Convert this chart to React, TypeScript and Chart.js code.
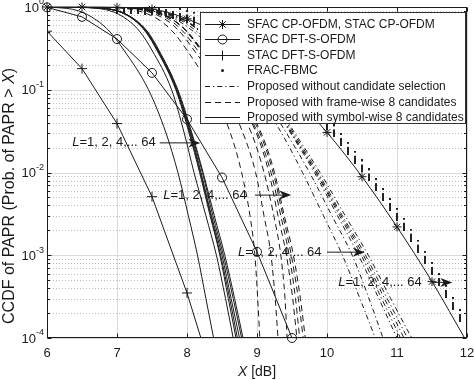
import React, { useEffect, useRef } from "react";
import { Chart, registerables } from "chart.js";

Chart.register(...registerables);

// ---------- data ----------
// probability levels at which the proposed-scheme curves were read (y values)
const levels = [1, 0.99, 0.9, 0.7, 0.5, 0.3, 0.1, 0.03, 0.01, 0.003, 0.001, 0.0003, 0.0001];

// Proposed with symbol-wise 8 candidates (solid), X [dB] at each level, L = 1..64
const symL1 = [6, 6.1, 6.45, 6.7, 6.9, 7.1, 7.45, 7.7, 7.87, 8.02, 8.15, 8.27, 8.38];
const symL2 = [6, 6.4, 6.9, 7.15, 7.33, 7.5, 7.78, 7.96, 8.1, 8.27, 8.42, 8.55, 8.66];
const symL4 = [6, 6.5, 7.0, 7.24, 7.41, 7.57, 7.84, 8.03, 8.18, 8.33, 8.47, 8.59, 8.7];
const symL8 = [6, 6.5, 7.0, 7.25, 7.42, 7.58, 7.85, 8.04, 8.19, 8.34, 8.48, 8.61, 8.72];
const symL16 = [6, 6.5, 7.0, 7.25, 7.42, 7.58, 7.85, 8.05, 8.2, 8.35, 8.5, 8.63, 8.75];
const symL32 = [6, 6.5, 7.0, 7.26, 7.43, 7.59, 7.86, 8.06, 8.22, 8.37, 8.52, 8.66, 8.78];
const symL64 = [6, 6.5, 7.0, 7.26, 7.44, 7.6, 7.87, 8.07, 8.23, 8.39, 8.54, 8.68, 8.8];

// Proposed with frame-wise 8 candidates (dashed)
const frmL1 = [6, 6.8, 7.3, 7.6, 7.8, 8.0, 8.35, 8.62, 8.78, 8.9, 8.97, 9.01, 9.04];
const frmL2 = [6, 6.9, 7.4, 7.7, 7.9, 8.1, 8.5, 8.8, 8.98, 9.1, 9.2, 9.26, 9.3];
const frmL4 = [6, 6.95, 7.45, 7.75, 7.95, 8.15, 8.58, 8.92, 9.1, 9.24, 9.34, 9.4, 9.43];
const frmL8 = [6, 7.0, 7.5, 7.8, 8.0, 8.2, 8.64, 8.99, 9.17, 9.3, 9.42, 9.51, 9.57];
const frmL16 = [6, 7.0, 7.5, 7.8, 8.0, 8.2, 8.66, 9.01, 9.2, 9.34, 9.46, 9.55, 9.61];
const frmL32 = [6, 7.0, 7.5, 7.8, 8.0, 8.21, 8.68, 9.04, 9.23, 9.37, 9.49, 9.59, 9.66];
const frmL64 = [6, 7.0, 7.5, 7.8, 8.01, 8.22, 8.7, 9.06, 9.25, 9.39, 9.52, 9.62, 9.69];

// Proposed without candidate selection (dash-dot)
const rawL1 = [6, 6.9, 7.45, 7.85, 8.1, 8.4, 8.95, 9.35, 9.65, 9.95, 10.22, 10.47, 10.69];
const rawL2 = [6, 6.95, 7.5, 7.9, 8.15, 8.47, 9.02, 9.42, 9.75, 10.07, 10.36, 10.6, 10.8];
const rawL4 = [6, 7.0, 7.55, 7.95, 8.2, 8.53, 9.08, 9.48, 9.82, 10.15, 10.45, 10.74, 11.0];
const rawL8 = [6, 7.0, 7.55, 7.95, 8.2, 8.54, 9.09, 9.49, 9.84, 10.18, 10.49, 10.78, 11.05];
const rawL16 = [6, 7.0, 7.55, 7.95, 8.2, 8.55, 9.1, 9.5, 9.85, 10.2, 10.52, 10.82, 11.1];
const rawL32 = [6, 7.0, 7.56, 7.96, 8.21, 8.56, 9.11, 9.52, 9.87, 10.22, 10.55, 10.86, 11.15];
const rawL64 = [6, 7.0, 7.56, 7.96, 8.22, 8.57, 9.13, 9.54, 9.9, 10.26, 10.59, 10.91, 11.21];

// Benchmarks, sampled every 0.5 dB
const cpX = [6, 6.5, 7, 7.5, 8, 8.5, 9, 9.5, 10, 10.5, 11, 11.5, 12];
const cpY = [1, 1, 0.99, 0.945, 0.72, 0.44, 0.21, 0.087, 0.0305, 0.0089, 0.0022, 0.00048, 0.000089];
const sfacX = [6, 6.5, 7, 7.5, 8, 8.5, 9, 9.5];
const sfacY = [0.99, 0.76, 0.41, 0.16, 0.044, 0.0087, 0.0011, 0.0001];
const stacX = [6, 6.5, 7, 7.5, 8, 8.5];
const stacY = [0.51, 0.18, 0.039, 0.0051, 0.00035, 0.000015];

// FRAC-FBMC, sampled every 0.1 dB from 7.0 to 12.0
const fbmcX = [
  7.0, 7.1, 7.2, 7.3, 7.4, 7.5, 7.6, 7.7, 7.8, 7.9,
  8.0, 8.1, 8.2, 8.3, 8.4, 8.5, 8.6, 8.7, 8.8, 8.9,
  9.0, 9.1, 9.2, 9.3, 9.4, 9.5, 9.6, 9.7, 9.8, 9.9,
  10.0, 10.1, 10.2, 10.3, 10.4, 10.5, 10.6, 10.7, 10.8, 10.9,
  11.0, 11.1, 11.2, 11.3, 11.4, 11.5, 11.6, 11.7, 11.8, 11.9, 12.0,
];
const fbmcY = [
  0.993, 0.99, 0.983, 0.974, 0.964, 0.955, 0.946, 0.906, 0.859, 0.815,
  0.773, 0.733, 0.668, 0.604, 0.546, 0.493, 0.446, 0.389, 0.337, 0.292,
  0.254, 0.22, 0.185, 0.155, 0.129, 0.108, 0.0904, 0.0736, 0.0597, 0.0484,
  0.0393, 0.0318, 0.0251, 0.0196, 0.0153, 0.012, 0.00935, 0.00714, 0.00542, 0.00411,
  0.00312, 0.00237, 0.00175, 0.00129, 0.000944, 0.000693, 0.000509, 0.000366, 0.000261, 0.000187, 0.000133,
];

// Axis ticks and labels
const xTicks = [6, 7, 8, 9, 10, 11, 12];
const yExps = [0, -1, -2, -3, -4];
const legendLabels = [
  "SFAC CP-OFDM, STAC CP-OFDM",
  "SFAC DFT-S-OFDM",
  "STAC DFT-S-OFDM",
  "FRAC-FBMC",
  "Proposed without candidate selection",
  "Proposed with frame-wise 8 candidates",
  "Proposed with symbol-wise 8 candidates",
];
const annText = "=1, 2, 4,... 64";
// annotation anchors in data units: text start, level, arrow start/end
const annotations = [
  { tx: 6.36, p: 0.0228, a0: 7.61, a1: 8.19 },
  { tx: 7.66, p: 0.00533, a0: 8.97, a1: 9.49 },
  { tx: 8.73, p: 0.00109, a0: 10.0, a1: 10.54 },
  { tx: 10.16, p: 0.00047, a0: 11.51, a1: 11.79 },
];

// ---------- styles ----------
const FONT = '"Liberation Sans", Arial, Helvetica, sans-serif';
const INK = "#1a1a1a";
const DASH = [6, 4];
const DASHDOT = [5, 3, 1.2, 3];

function curve(xs: number[], dash: number[]) {
  return {
    data: xs.map((x, i) => ({ x, y: levels[i] })),
    showLine: true,
    borderColor: INK,
    borderWidth: 1,
    borderDash: dash,
    pointRadius: 0,
    cubicInterpolationMode: "monotone" as const,
  };
}

function series(xs: number[], ys: number[]) {
  return xs.map((x, i) => ({ x, y: ys[i] }));
}

function drawMarker(ctx: CanvasRenderingContext2D, kind: string, x: number, y: number) {
  ctx.beginPath();
  if (kind === "star") {
    const r = 4.5;
    for (let k = 0; k < 4; k++) {
      const a = (k * Math.PI) / 4;
      ctx.moveTo(x - r * Math.cos(a), y - r * Math.sin(a));
      ctx.lineTo(x + r * Math.cos(a), y + r * Math.sin(a));
    }
    ctx.stroke();
  } else if (kind === "circle") {
    ctx.arc(x, y, 4.5, 0, Math.PI * 2);
    ctx.stroke();
  } else if (kind === "plus") {
    ctx.moveTo(x - 5, y);
    ctx.lineTo(x + 5, y);
    ctx.moveTo(x, y - 5);
    ctx.lineTo(x, y + 5);
    ctx.stroke();
  } else if (kind === "dot") {
    ctx.arc(x, y, 1.5, 0, Math.PI * 2);
    ctx.fill();
  }
}

const framePlugin = {
  id: "frame",
  beforeDatasetsDraw(chart: any) {
    const { ctx, chartArea: a, scales } = chart;
    const sx = scales.x;
    const sy = scales.y;
    ctx.save();
    ctx.lineWidth = 1;
    ctx.strokeStyle = "#dadada";
    for (const v of xTicks) {
      const px = Math.round(sx.getPixelForValue(v)) + 0.5;
      ctx.beginPath();
      ctx.moveTo(px, a.top);
      ctx.lineTo(px, a.bottom);
      ctx.stroke();
    }
    ctx.strokeStyle = "#bdbdbd";
    ctx.setLineDash([1, 2]);
    for (let e = -4; e < 0; e++) {
      for (let k = 2; k <= 9; k++) {
        const py = Math.round(sy.getPixelForValue(k * Math.pow(10, e))) + 0.5;
        ctx.beginPath();
        ctx.moveTo(a.left, py);
        ctx.lineTo(a.right, py);
        ctx.stroke();
      }
    }
    ctx.setLineDash([]);
    ctx.strokeStyle = "#dadada";
    for (const e of yExps) {
      const py = Math.round(sy.getPixelForValue(Math.pow(10, e))) + 0.5;
      ctx.beginPath();
      ctx.moveTo(a.left, py);
      ctx.lineTo(a.right, py);
      ctx.stroke();
    }
    ctx.restore();
  },
  afterDatasetsDraw(chart: any) {
    const { ctx, chartArea: a, scales } = chart;
    const sx = scales.x;
    const sy = scales.y;
    ctx.save();
    ctx.strokeStyle = INK;
    ctx.fillStyle = INK;
    ctx.lineWidth = 1;
    const L = Math.round(a.left) + 0.5;
    const R = Math.round(a.right) - 0.5;
    const T = Math.round(a.top) + 0.5;
    const B = Math.round(a.bottom) - 0.5;
    ctx.strokeRect(L, T, R - L, B - T);
    ctx.beginPath();
    for (const v of xTicks) {
      const px = Math.round(sx.getPixelForValue(v)) + 0.5;
      ctx.moveTo(px, B);
      ctx.lineTo(px, B - 4);
      ctx.moveTo(px, T);
      ctx.lineTo(px, T + 4);
    }
    for (let e = -4; e <= 0; e++) {
      const py = Math.round(sy.getPixelForValue(Math.pow(10, e))) + 0.5;
      ctx.moveTo(L, py);
      ctx.lineTo(L + 4, py);
      ctx.moveTo(R, py);
      ctx.lineTo(R - 4, py);
      if (e < 0) {
        for (let k = 2; k <= 9; k++) {
          const q = Math.round(sy.getPixelForValue(k * Math.pow(10, e))) + 0.5;
          ctx.moveTo(L, q);
          ctx.lineTo(L + 2.5, q);
          ctx.moveTo(R, q);
          ctx.lineTo(R - 2.5, q);
        }
      }
    }
    ctx.stroke();

    ctx.font = `13px ${FONT}`;
    ctx.textAlign = "center";
    ctx.textBaseline = "middle";
    for (const v of xTicks) {
      ctx.fillText(String(v), sx.getPixelForValue(v), a.bottom + 15);
    }
    ctx.textAlign = "left";
    for (const e of yExps) {
      const py = sy.getPixelForValue(Math.pow(10, e));
      ctx.font = `9px ${FONT}`;
      const ex = e === 0 ? "0" : "-" + String(-e);
      const we = ctx.measureText(ex).width;
      ctx.font = `13px ${FONT}`;
      const wb = ctx.measureText("10").width;
      const right = a.left - 3;
      ctx.fillText("10", right - we - wb, py + 1);
      ctx.font = `9px ${FONT}`;
      ctx.fillText(ex, right - we, py - 5);
    }
    ctx.font = `italic 14px ${FONT}`;
    const wX = ctx.measureText("X").width;
    ctx.font = `14px ${FONT}`;
    const wR = ctx.measureText(" [dB]").width;
    const cx = (a.left + a.right) / 2;
    const sxp = cx - (wX + wR) / 2;
    ctx.font = `italic 14px ${FONT}`;
    ctx.fillText("X", sxp, a.bottom + 34);
    ctx.font = `14px ${FONT}`;
    ctx.fillText(" [dB]", sxp + wX, a.bottom + 34);
    ctx.save();
    ctx.translate(10, 196);
    ctx.rotate(-Math.PI / 2);
    const p1 = "CCDF of PAPR (Prob. of PAPR > ";
    const p3 = ")";
    ctx.font = `16px ${FONT}`;
    const w1 = ctx.measureText(p1).width;
    const w3 = ctx.measureText(p3).width;
    ctx.font = `italic 16px ${FONT}`;
    const w2 = ctx.measureText("X").width;
    const s = -(w1 + w2 + w3) / 2;
    ctx.font = `16px ${FONT}`;
    ctx.fillText(p1, s, 0);
    ctx.font = `italic 16px ${FONT}`;
    ctx.fillText("X", s + w1, 0);
    ctx.font = `16px ${FONT}`;
    ctx.fillText(p3, s + w1 + w2, 0);
    ctx.restore();

    for (const an of annotations) {
      const py = sy.getPixelForValue(an.p);
      const tx = sx.getPixelForValue(an.tx);
      ctx.font = `italic 13px ${FONT}`;
      ctx.fillText("L", tx, py);
      const wl = ctx.measureText("L").width;
      ctx.font = `13px ${FONT}`;
      ctx.fillText(annText, tx + wl, py);
      const x0 = sx.getPixelForValue(an.a0);
      const x1 = sx.getPixelForValue(an.a1);
      ctx.beginPath();
      ctx.moveTo(x0, py);
      ctx.lineTo(x1 - 6, py);
      ctx.stroke();
      ctx.beginPath();
      ctx.moveTo(x1, py);
      ctx.lineTo(x1 - 12, py - 4.5);
      ctx.lineTo(x1 - 8.5, py);
      ctx.lineTo(x1 - 12, py + 4.5);
      ctx.closePath();
      ctx.fill();
    }

    const lx = 200.5, ly = 12.5, lw = 265, lh = 111;
    ctx.fillStyle = "#ffffff";
    ctx.fillRect(lx, ly, lw, lh);
    ctx.strokeStyle = "#333";
    ctx.strokeRect(lx, ly, lw, lh);
    ctx.strokeStyle = INK;
    ctx.fillStyle = INK;
    const kinds = ["star", "circle", "plus", "dot", "dashdot", "dash", "solid"];
    ctx.font = `12px ${FONT}`;
    ctx.textAlign = "left";
    ctx.textBaseline = "middle";
    legendLabels.forEach((lab, i) => {
      const ry = Math.round(23.5 + i * 15.6) + 0.5;
      const k = kinds[i];
      if (k !== "dot") {
        ctx.setLineDash(k === "dash" ? DASH : k === "dashdot" ? DASHDOT : []);
        ctx.beginPath();
        ctx.moveTo(205, ry);
        ctx.lineTo(240, ry);
        ctx.stroke();
        ctx.setLineDash([]);
      }
      if (k === "star" || k === "circle" || k === "plus" || k === "dot") drawMarker(ctx, k, 222.5, ry);
      ctx.fillText(lab, 247, ry);
    });
    ctx.restore();
  },
};

export default function App() {
  const ref = useRef<HTMLCanvasElement | null>(null);
  useEffect(() => {
    const canvas = ref.current;
    if (!canvas) return;
    // "i"-shaped marker used for the FRAC-FBMC samples
    const mk = document.createElement("canvas");
    mk.width = 2;
    mk.height = 13;
    const g = mk.getContext("2d")!;
    g.fillStyle = "#222";
    g.fillRect(0, 0, 2, 2);
    g.fillRect(0, 5, 2, 8);

    const datasets: any[] = [];
    [symL1, symL2, symL4, symL8, symL16, symL32, symL64].forEach((xs) => datasets.push(curve(xs, [])));
    [frmL1, frmL2, frmL4, frmL8, frmL16, frmL32, frmL64].forEach((xs) => datasets.push(curve(xs, DASH)));
    [rawL1, rawL2, rawL4, rawL8, rawL16, rawL32, rawL64].forEach((xs) => datasets.push(curve(xs, DASHDOT)));
    datasets.push({
      data: series(cpX, cpY),
      showLine: true,
      borderColor: INK,
      borderWidth: 1,
      pointStyle: "star",
      pointRadius: 4.5,
      pointBorderColor: INK,
      pointBackgroundColor: "rgba(0,0,0,0)",
      pointBorderWidth: 1,
      cubicInterpolationMode: "monotone",
      clip: { left: 6, top: 6, right: 0, bottom: 0 },
    });
    datasets.push({
      data: series(sfacX, sfacY),
      showLine: true,
      borderColor: INK,
      borderWidth: 1,
      pointStyle: "circle",
      pointRadius: 4.5,
      pointBorderColor: INK,
      pointBackgroundColor: "rgba(0,0,0,0)",
      pointBorderWidth: 1,
      clip: 8,
    });
    datasets.push({
      data: series(stacX, stacY),
      showLine: true,
      borderColor: INK,
      borderWidth: 1,
      pointStyle: "cross",
      pointRadius: 5,
      pointBorderColor: INK,
      pointBorderWidth: 1,
    });
    datasets.push({
      data: series(fbmcX, fbmcY),
      showLine: false,
      pointStyle: mk,
      pointRadius: 3,
    });

    const chart = new Chart(canvas, {
      type: "scatter",
      data: { datasets },
      plugins: [framePlugin],
      options: {
        animation: false,
        responsive: false,
        devicePixelRatio: 1,
        events: [],
        layout: { padding: { left: 47, top: 7, right: 7, bottom: 42 } },
        plugins: { legend: { display: false }, tooltip: { enabled: false } },
        scales: {
          x: { type: "linear", min: 6, max: 12, display: false },
          y: { type: "logarithmic", min: 0.0001, max: 1, display: false },
        },
      },
    } as any);
    return () => chart.destroy();
  }, []);
  return (
    <div style={{ position: "absolute", left: 0, top: 0, width: 474, height: 380, background: "#fff" }}>
      <canvas ref={ref} width={474} height={380} style={{ display: "block" }} />
    </div>
  );
}
